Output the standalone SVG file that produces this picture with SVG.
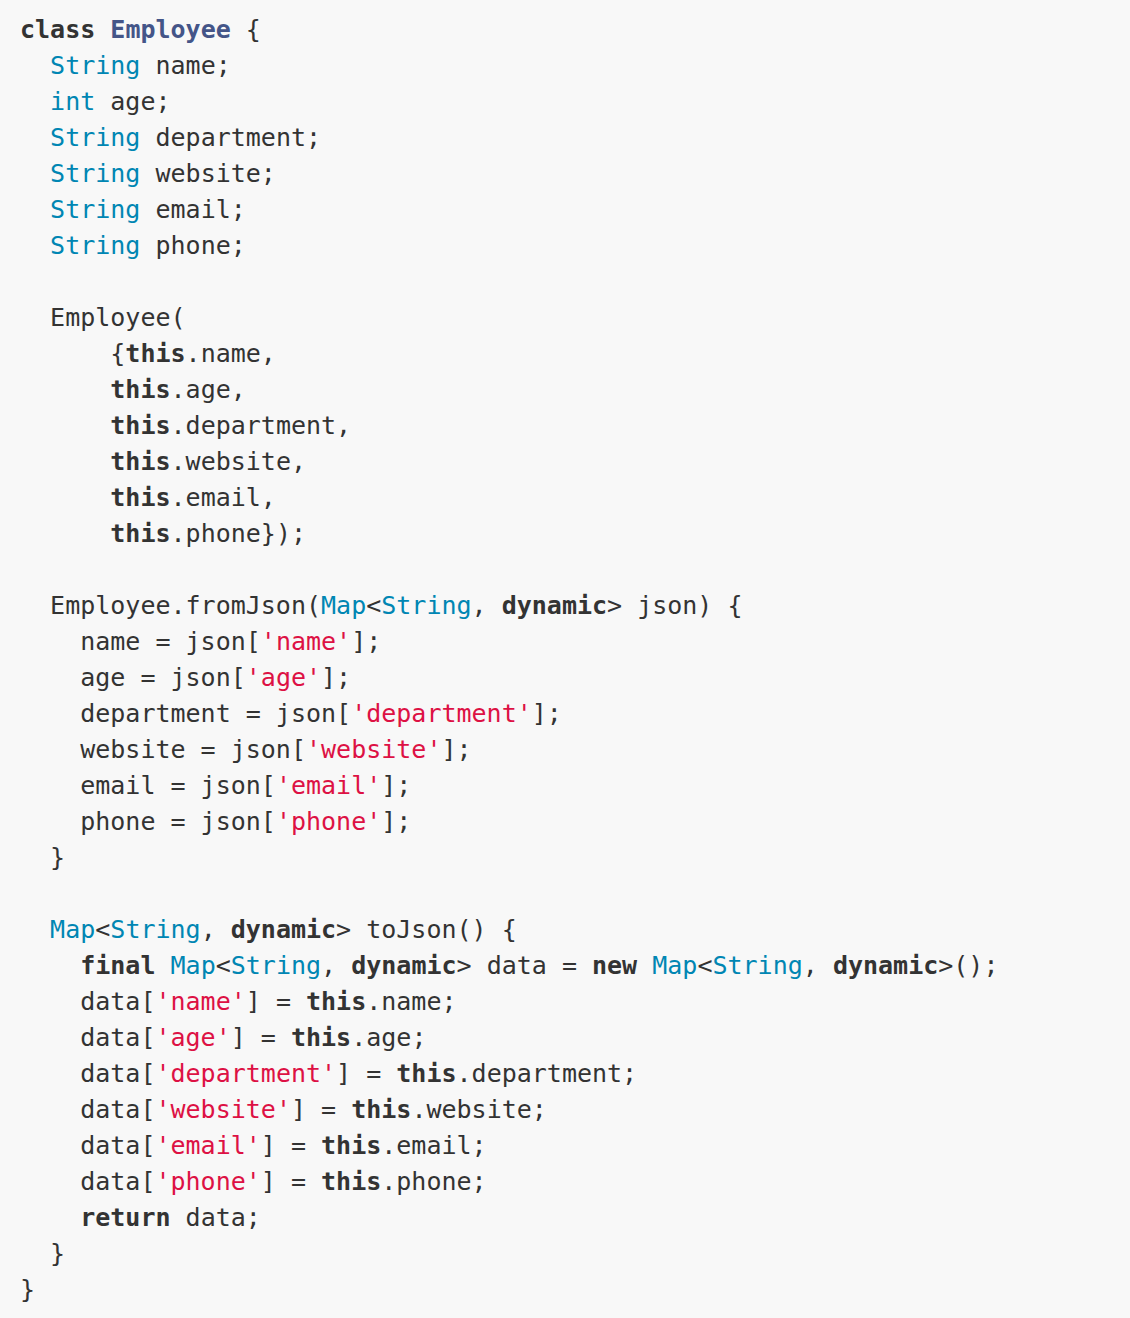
<svg xmlns="http://www.w3.org/2000/svg" width="1130" height="1318" viewBox="0 0 1130 1318">
<style>
text{font-family:"DejaVu Sans Mono","Liberation Mono",monospace;font-size:25px;fill:#333;white-space:pre}
.k{font-weight:bold;fill:#333}
.t{fill:#0086b3}
.s{fill:#dd1144}
.c{font-weight:bold;fill:#445588}
</style>
<rect width="1130" height="1318" fill="#f8f8f8"/>
<g id="code" xml:space="preserve">
<text x="20" y="38"><tspan class="k">class</tspan> <tspan class="c">Employee</tspan> {</text>
<text x="20" y="74">  <tspan class="t">String</tspan> name;</text>
<text x="20" y="110">  <tspan class="t">int</tspan> age;</text>
<text x="20" y="146">  <tspan class="t">String</tspan> department;</text>
<text x="20" y="182">  <tspan class="t">String</tspan> website;</text>
<text x="20" y="218">  <tspan class="t">String</tspan> email;</text>
<text x="20" y="254">  <tspan class="t">String</tspan> phone;</text>
<text x="20" y="326">  Employee(</text>
<text x="20" y="362">      {<tspan class="k">this</tspan>.name,</text>
<text x="20" y="398">      <tspan class="k">this</tspan>.age,</text>
<text x="20" y="434">      <tspan class="k">this</tspan>.department,</text>
<text x="20" y="470">      <tspan class="k">this</tspan>.website,</text>
<text x="20" y="506">      <tspan class="k">this</tspan>.email,</text>
<text x="20" y="542">      <tspan class="k">this</tspan>.phone});</text>
<text x="20" y="614">  Employee.fromJson(<tspan class="t">Map</tspan>&lt;<tspan class="t">String</tspan>, <tspan class="k">dynamic</tspan>&gt; json) {</text>
<text x="20" y="650">    name = json[<tspan class="s">'name'</tspan>];</text>
<text x="20" y="686">    age = json[<tspan class="s">'age'</tspan>];</text>
<text x="20" y="722">    department = json[<tspan class="s">'department'</tspan>];</text>
<text x="20" y="758">    website = json[<tspan class="s">'website'</tspan>];</text>
<text x="20" y="794">    email = json[<tspan class="s">'email'</tspan>];</text>
<text x="20" y="830">    phone = json[<tspan class="s">'phone'</tspan>];</text>
<text x="20" y="866">  }</text>
<text x="20" y="938">  <tspan class="t">Map</tspan>&lt;<tspan class="t">String</tspan>, <tspan class="k">dynamic</tspan>&gt; toJson() {</text>
<text x="20" y="974">    <tspan class="k">final</tspan> <tspan class="t">Map</tspan>&lt;<tspan class="t">String</tspan>, <tspan class="k">dynamic</tspan>&gt; data = <tspan class="k">new</tspan> <tspan class="t">Map</tspan>&lt;<tspan class="t">String</tspan>, <tspan class="k">dynamic</tspan>&gt;();</text>
<text x="20" y="1010">    data[<tspan class="s">'name'</tspan>] = <tspan class="k">this</tspan>.name;</text>
<text x="20" y="1046">    data[<tspan class="s">'age'</tspan>] = <tspan class="k">this</tspan>.age;</text>
<text x="20" y="1082">    data[<tspan class="s">'department'</tspan>] = <tspan class="k">this</tspan>.department;</text>
<text x="20" y="1118">    data[<tspan class="s">'website'</tspan>] = <tspan class="k">this</tspan>.website;</text>
<text x="20" y="1154">    data[<tspan class="s">'email'</tspan>] = <tspan class="k">this</tspan>.email;</text>
<text x="20" y="1190">    data[<tspan class="s">'phone'</tspan>] = <tspan class="k">this</tspan>.phone;</text>
<text x="20" y="1226">    <tspan class="k">return</tspan> data;</text>
<text x="20" y="1262">  }</text>
<text x="20" y="1298">}</text>
</g>
<g id="connectors"/>
</svg>
